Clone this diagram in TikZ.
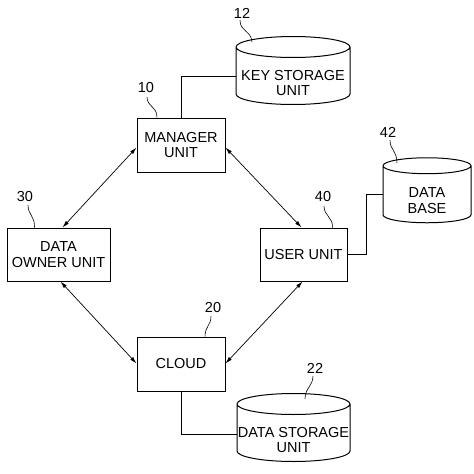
\documentclass[tikz,border=0pt]{standalone}
\usepackage{fontspec}
\setmainfont{Liberation Sans}
\usetikzlibrary{shapes.geometric,arrows.meta}
\begin{document}
\begin{tikzpicture}[x=1pt,y=1pt,font=\fontsize{14.5}{15.5}\selectfont]
      \tikzset{unit/.style={draw, line width=1pt, rectangle, align=center, inner sep=0pt},
               store/.style={draw, line width=1pt, cylinder, shape border rotate=90, aspect=0.21, inner sep=0pt, text height=10pt},
               storetext/.style={align=center, inner sep=0pt},
               link/.style={line width=0.7pt, {Latex[length=7pt,width=4pt]}-{Latex[length=7pt,width=4pt]}},
               wire/.style={line width=0.8pt},
               lead/.style={line width=0.6pt}}
      \useasboundingbox (0,0) rectangle (474,-474);
%% Units
      	\node[unit, minimum width=88, minimum height=54] (mgr) at (181,-145) {MANAGER\\UNIT};
      	\node[unit, minimum width=103, minimum height=53] (owner) at (58.5,-254.5) {DATA\\OWNER UNIT};
      	\node[unit, minimum width=87, minimum height=53] (user) at (303.5,-254.5) {USER UNIT};
      	\node[unit, minimum width=88, minimum height=54] (cloud) at (181,-364) {CLOUD};
%% Storages
      	\node[store, minimum width=114, minimum height=68, text width=100pt] (keys) at (293,-76) {};
      	\node[store, minimum width=88, minimum height=65, text width=76pt] (db) at (427,-194.5) {};
      	\node[store, minimum width=113, minimum height=68, text width=100pt] (dstore) at (293.5,-433) {};
      	\node[storetext] (keystext) at ([yshift=-7pt]keys.center) {KEY STORAGE\\UNIT};
      	\node[storetext] (dbtext) at ([yshift=-6pt]db.center) {DATA\\BASE};
      	\node[storetext] (dstoretext) at ([yshift=-7pt]dstore.center) {DATA STORAGE\\UNIT};
%% Reference numerals
      	\node (n10) at (146,-88) {10};
      	\node (n12) at (242,-13) {12};
      	\node (n20) at (213,-308) {20};
      	\node (n22) at (315,-368) {22};
      	\node (n30) at (25,-197) {30};
      	\node (n40) at (323,-197) {40};
      	\node (n42) at (388,-132) {42};
%Links
		\draw[link] ([yshift=25pt]mgr.south west) -- ([xshift=56pt]owner.north west);
		\draw[link] ([yshift=25pt]mgr.south east) -- ([xshift=42pt]user.north west);
		\draw[link] ([xshift=54pt]owner.south west) -- ([yshift=28pt]cloud.south west);
		\draw[link] ([xshift=43pt]user.south west) -- ([yshift=28pt]cloud.south east);
%Wires
		\draw[wire] (mgr.north) |- (keys.west);
		\draw[wire] (user.east) -- ++(19,0) |- (db.west);
		\draw[wire] (cloud.south) |- ([yshift=-1pt]dstore.west);
%Leaders
		\draw[lead] (147,-97) .. controls (147,-107) and (157,-106) .. ([xshift=-24pt]mgr.north);
		\draw[lead] (240,-20) .. controls (240,-32) and (251,-30) .. (252,-42);
		\draw[lead] (211,-316) .. controls (211,-326) and (205,-326) .. ([xshift=24pt]cloud.north);
		\draw[lead] (313,-376) .. controls (313,-386) and (305,-388) .. (305,-399);
		\draw[lead] (28,-205) .. controls (28,-215) and (35,-216) .. ([xshift=28pt]owner.north west);
		\draw[lead] (324,-206) .. controls (324,-216) and (333,-217) .. ([xshift=73pt]user.north west);
		\draw[lead] (390,-140) .. controls (390,-150) and (397,-151) .. (397,-163);
	\end{tikzpicture}
\end{document}
